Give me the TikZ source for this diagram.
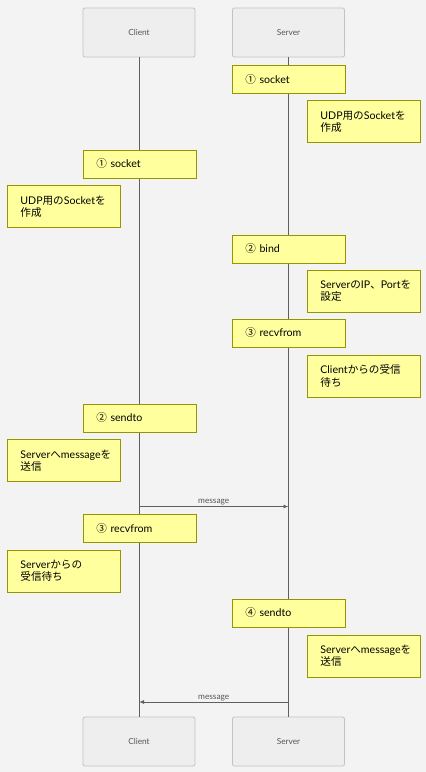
\documentclass[tikz,border=0pt]{standalone}
\usepackage{fontspec}
\setmainfont{Lato}
\newfontfamily\jpfont{Noto Sans CJK JP}
\newcommand{\J}[1]{{\jpfont #1}}
\usetikzlibrary{arrows.meta}
\definecolor{bgc}{HTML}{F3F3F3}
\definecolor{actfill}{HTML}{EEEEEE}
\definecolor{actdraw}{HTML}{C2C2C2}
\definecolor{notefill}{HTML}{FFFF9E}
\definecolor{notedraw}{HTML}{959500}
\definecolor{linec}{HTML}{5F5F5F}
\definecolor{txtgray}{HTML}{555555}
\tikzset{
  actor/.style={draw=actdraw, fill=actfill, rounded corners=2pt, line width=0.8pt,
    minimum width=112pt, minimum height=49pt, font=\fontsize{8.3}{10}\selectfont, text=txtgray, inner sep=0pt},
  callbox/.style={draw=notedraw, fill=notefill, line width=0.8pt,
    minimum width=113pt, minimum height=28pt, font=\fontsize{10.6}{12.2}\selectfont, text=black,
    align=left, text width=87pt, inner ysep=0pt, inner xsep=13pt, anchor=north west},
  notebox/.style={draw=notedraw, fill=notefill, line width=0.8pt,
    minimum width=113pt, minimum height=42pt, font=\fontsize{10.6}{12.2}\selectfont, text=black,
    align=left, text width=87pt, inner ysep=0pt, inner xsep=13pt, anchor=north west},
  life/.style={draw=linec, line width=0.8pt},
  msg/.style={draw=linec, line width=0.9pt, -{Latex[length=5pt,width=4pt]}},
  msglabel/.style={font=\fontsize{8.3}{10}\selectfont, text=txtgray, inner sep=1pt}
}
\begin{document}
\begin{tikzpicture}[x=1pt,y=-1pt]
\useasboundingbox (0,0) rectangle (426,772);
\fill[bgc] (0,0) rectangle (426,772);
% actors
\node[actor] (ct) at (139,32.5) {Client};
\node[actor] (st) at (288.5,32.5) {Server};
\node[actor] (cb) at (139,741.5) {Client};
\node[actor] (sb) at (288.5,741.5) {Server};
% lifelines
\draw[life] (ct.south) -- (cb.north);
\draw[life] (st.south) -- (sb.north);
% server socket
\node[callbox] (s1) at (232,65) {\J{①} socket};
\node[notebox] (n1) at (307,100) {UDP\J{用の}Socket\J{を}\\\J{作成}};
% client socket
\node[callbox, minimum width=112pt] (c1) at (83,149.5) {\J{①} socket};
\node[notebox] (n2) at (7,185) {UDP\J{用の}Socket\J{を}\\\J{作成}};
% bind
\node[callbox] (s2) at (232,234.5) {\J{②} bind};
\node[notebox] (n3) at (307,269.5) {Server\J{の}IP\J{、}Port\J{を}\\\J{設定}};
% server recvfrom
\node[callbox] (s3) at (232,318.5) {\J{③} recvfrom};
\node[notebox] (n4) at (307,354.5) {Client\J{からの受信}\\\J{待ち}};
% client sendto
\node[callbox, minimum width=112pt] (c2) at (83,403.5) {\J{②} sendto};
\node[notebox] (n5) at (7,439) {Server\J{へ}message\J{を}\\\J{送信}};
% message 1
\coordinate (m1a) at (ct.south |- 0,506.5);
\coordinate (m1b) at (st.south |- 0,506.5);
\draw[msg] (m1a) -- node[msglabel, above] {message} (m1b);
% client recvfrom
\node[callbox, minimum width=112pt] (c3) at (83,514) {\J{③} recvfrom};
\node[notebox] (n6) at (7,549.5) {Server\J{からの}\\\J{受信待ち}};
% server sendto
\node[callbox] (s4) at (232,598.5) {\J{④} sendto};
\node[notebox] (n7) at (307,634.5) {Server\J{へ}message\J{を}\\\J{送信}};
% message 2
\coordinate (m2a) at (st.south |- 0,702);
\coordinate (m2b) at (ct.south |- 0,702);
\draw[msg] (m2a) -- node[msglabel, above] {message} (m2b);
\end{tikzpicture}
\end{document}
